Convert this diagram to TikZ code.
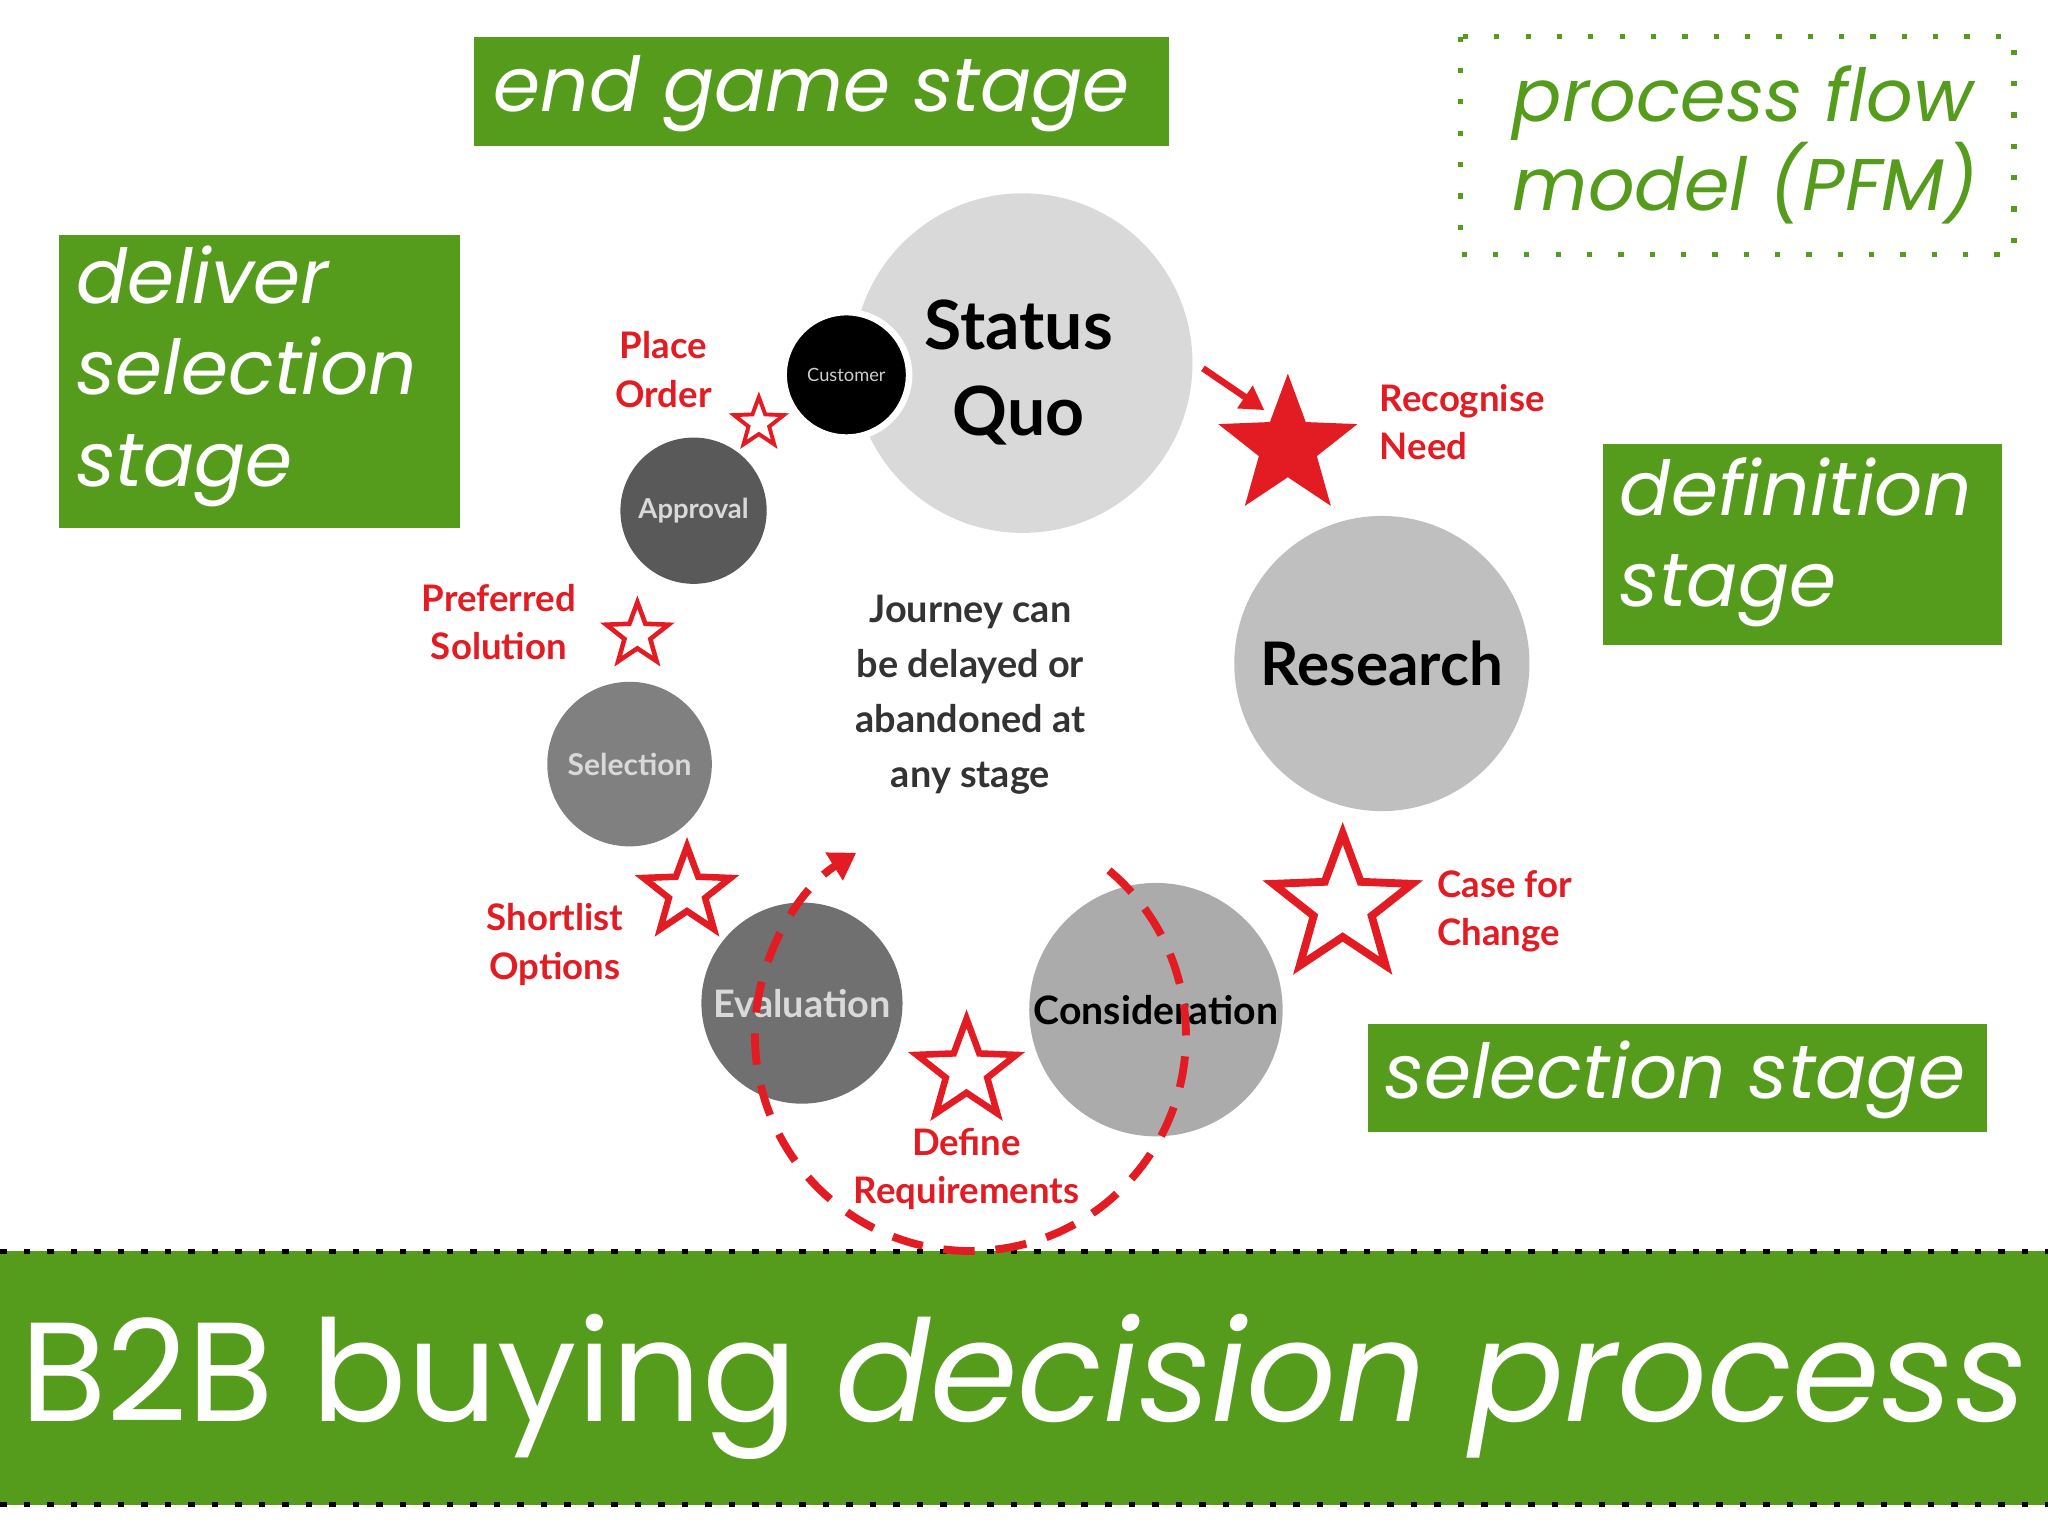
\documentclass[tikz,border=0pt]{standalone}
\usepackage{fontspec}
\setmainfont{Lato}
\newfontfamily\gfont{Poppins}
\usetikzlibrary{shapes.geometric,arrows.meta}
\definecolor{pgreen}{HTML}{559C1C}
\definecolor{pred}{HTML}{E31B23}
\begin{document}
\begin{tikzpicture}[x=1pt,y=-1pt,
  gbox/.style={text=white,font=\gfont\itshape\fontsize{58}{70}\selectfont,align=left,inner sep=0pt},
  stage/.style={circle,inner sep=0pt,font=\bfseries},
  rlab/.style={text=pred,font=\bfseries\fontsize{28}{37}\selectfont,align=center},
  ostar/.style={star,star points=5,star point ratio=2.4,draw=pred,line width=6pt,fill=white,inner sep=0pt},
]
\useasboundingbox (0,0) rectangle (1568,1175);
\fill[white] (0,0) rectangle (1568,1175);
% boxes
\fill[pgreen] (363,28) rectangle (895,112);
\node[gbox,anchor=west] (eg) at (378,72) {end game stage};
\fill[pgreen] (45,180) rectangle (352,404);
\node[gbox,anchor=north west] (dss) at (58,188) {deliver\\selection\\stage};
\fill[pgreen] (1227,340) rectangle (1533,494);
\node[gbox,anchor=north west] (ds) at (1240,350) {definition\\stage};
\fill[pgreen] (1047,784) rectangle (1521,867);
\node[gbox,anchor=west] (ss) at (1060,827) {selection stage};
\draw[pgreen,line width=4pt,dash pattern=on 4pt off 20pt] (1118,28) rectangle (1542,195);
\node[gbox,text=pgreen,anchor=north west,font=\gfont\itshape\fontsize{56}{64}\selectfont] (pfm) at (1158,50) {process flow\\model (PFM)};
% bottom band
\fill[pgreen] (0,958) rectangle (1568,1152);
\draw[black,line width=4pt,dash pattern=on 5pt off 13pt] (0,958) -- (1568,958);
\draw[black,line width=4pt,dash pattern=on 5pt off 13pt] (0,1152) -- (1568,1152);
\node[text=white,font=\gfont\fontsize{108}{120}\selectfont] (title) at (784,1062) {B2B buying \textit{decision process}};
% circles
\node[stage,fill=black!15,minimum size=260,font=\bfseries\fontsize{54}{66}\selectfont,align=center] (sq) at (783,278) {};
\node[font=\bfseries\fontsize{52}{66}\selectfont,align=center] (sqt) at (780,285) {Status\\Quo};
\node[stage,fill=black,draw=white,line width=5pt,minimum size=96,text=white!80!black,font=\fontsize{14}{16}\selectfont] (cust) at (648,287) {Customer};
\node[stage,fill=black!25,minimum size=226,font=\bfseries\fontsize{46}{50}\selectfont] (res) at (1058,508) {Research};
\node[stage,fill=black!33,minimum size=194,font=\bfseries\fontsize{30}{34}\selectfont] (con) at (885,773) {Consideration};
\node[stage,fill=black!56,minimum size=154,text=white!85!black,font=\bfseries\fontsize{29}{32}\selectfont] (eva) at (614,768) {Evaluation};
\node[stage,fill=black!50,minimum size=126,text=white!85!black,font=\bfseries\fontsize{23}{26}\selectfont] (sel) at (482,585) {Selection};
\node[stage,fill=black!65,minimum size=112,text=white!85!black,font=\bfseries\fontsize{21}{24}\selectfont] (app) at (531,391) {Approval};
% stars
\node[star,star points=5,star point ratio=2.4,fill=pred,minimum size=112,inner sep=0pt] (s1) at (986,342) {};
\node[ostar,minimum size=112] (s2) at (1028,694) {};
\node[ostar,minimum size=80,line width=5pt] (s3) at (740,820) {};
\node[ostar,minimum size=70,line width=5pt] (s4) at (526,683) {};
\node[ostar,minimum size=50,line width=3.5pt] (s5) at (488,486) {};
\node[ostar,minimum size=40,line width=3pt] (s6) at (581,324) {};
\coordinate (a1) at (921,282);
\draw[pred,line width=5pt,-{Triangle[length=18pt,width=20pt]}] (a1) -- (968,314);
% labels
\node[rlab] (l1) at (508,283) {Place\\Order};
\node[rlab,align=left,anchor=west] (l2) at (1053,323) {Recognise\\Need};
\node[rlab] (l3) at (382,476) {Preferred\\Solution};
\node[rlab,align=left,anchor=west] (l4) at (1097,698) {Case for\\Change};
\node[rlab] (l5) at (425,723) {Shortlist\\Options};
\node[rlab] (l6) at (740,895) {Define\\Requirements};
\node[font=\bfseries\fontsize{29}{42}\selectfont,align=center,text=black!80] (ctr) at (743,532) {Journey can\\be delayed or\\abandoned at\\any stage};
% dashed circle
\coordinate (dc) at (743,540);
\draw[pred,line width=6pt,dash pattern=on 24pt off 16pt,-{Triangle[length=20pt,width=24pt]}]
  ([shift={(50:165)}]dc) arc[start angle=-50,end angle=238,radius=165];
\end{tikzpicture}
\end{document}
